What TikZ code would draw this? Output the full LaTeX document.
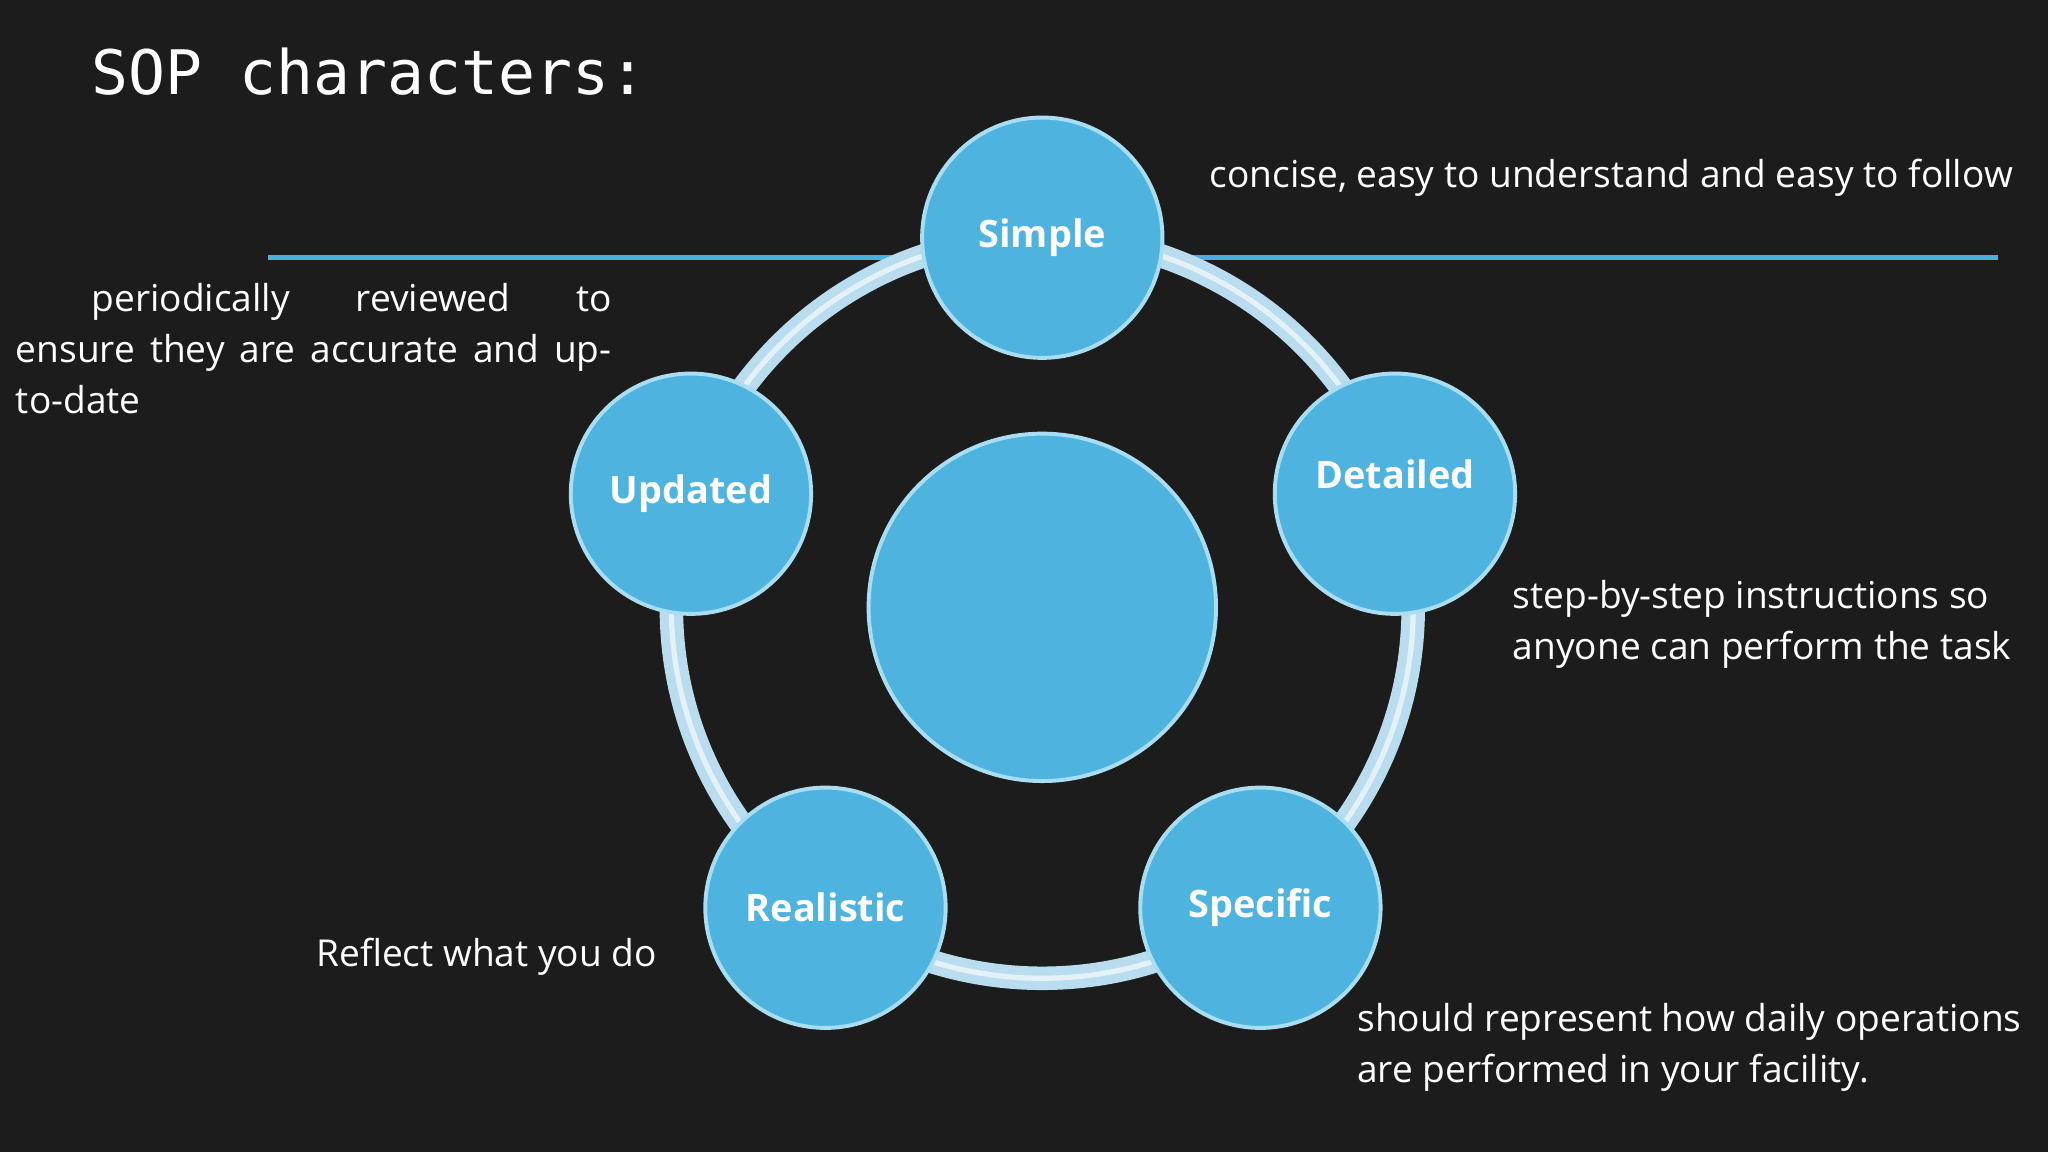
\documentclass[tikz,border=0pt]{standalone}
\usepackage{fontspec}
\setmainfont{Open Sans}
\newfontfamily\monof{DejaVu Sans Mono}
\begin{document}
\begin{tikzpicture}[x=1pt,y=-1pt,
  ball/.style={circle,minimum size=184pt,inner sep=0pt,fill=ballblue,draw=rimblue,line width=3pt,font=\fontsize{29}{32}\selectfont\bfseries,text=white},
  desc/.style={font=\fontsize{28.4}{39}\selectfont,text=white,anchor=north west,inner sep=0pt}]
\definecolor{ballblue}{HTML}{4FB3E0}
\definecolor{rimblue}{HTML}{A8DDF2}
\definecolor{ringblue}{HTML}{B9DDEE}
\definecolor{bg}{HTML}{1C1C1C}
\definecolor{lineblue}{HTML}{4AB0DC}
\fill[bg] (0,0) rectangle (1568,882);
\useasboundingbox (0,0) rectangle (1568,882);
\node[font=\monof\fontsize{47}{50}\selectfont,text=white,anchor=west,inner sep=0pt] (title) at (70,55) {SOP characters:};
\draw[lineblue,line width=4pt] (205,197) -- (1530,197);
\draw[ringblue,line width=18pt] (798,465) circle (284);
\draw[white!60!ringblue,line width=4pt] (798,465) circle (284);
\node[ball,minimum size=266pt] (center) at (798,465) {};
\node[ball] (simple) at (798,182) {Simple};
\node[ball] (detailed) at (1068,378) {\raisebox{30pt}{Detailed}};
\node[ball] (specific) at (965,695) {Specific};
\node[ball] (realistic) at (632,695) {Realistic};
\node[ball] (updated) at (529,378) {Updated};
\node[desc] (d1) at (926,122) {concise, easy to understand and easy to follow};
\node[desc,align=left] (d2) at (12,217) {\makebox[456pt][s]{\hspace*{58pt}periodically\hfill reviewed\hfill to}\\\makebox[456pt][s]{ensure they are accurate and up-}\\to-date};
\node[desc,align=left] (d3) at (1158,444) {step-by-step instructions so\\anyone can perform the task};
\node[desc] (d4) at (242,718) {Reflect what you do};
\node[desc,align=left] (d5) at (1039,768) {should represent how daily operations\\are performed in your facility.};
\end{tikzpicture}
\end{document}
